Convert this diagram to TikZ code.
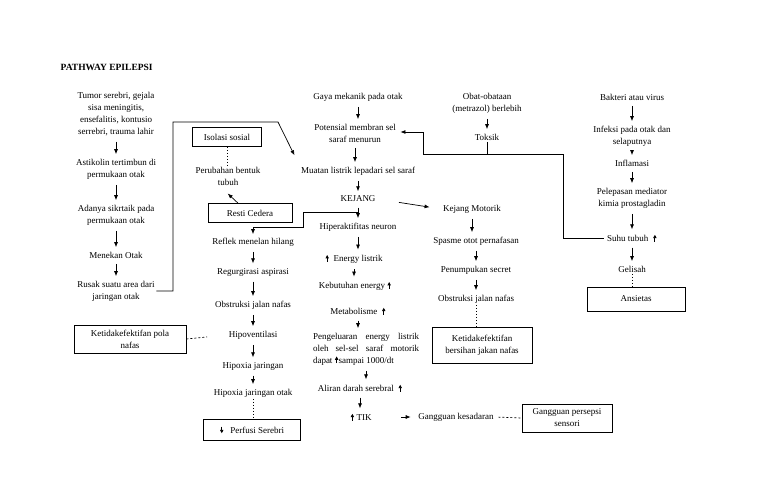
\documentclass[tikz,border=0pt]{standalone}
\usepackage{fontspec}
\setmainfont{Liberation Serif}
\usetikzlibrary{arrows.meta,calc}
\newcommand{\upar}{\tikz[baseline=0pt]\draw[-{Latex[length=3.6pt,width=3.8pt]},line width=0.9pt,shorten <=0pt,shorten >=0pt] (0pt,0pt) -- (0pt,7pt);}
\newcommand{\dnar}{\tikz[baseline=0pt]\draw[-{Latex[length=3.6pt,width=3.8pt]},line width=0.9pt,shorten <=0pt,shorten >=0pt] (0pt,7pt) -- (0pt,0pt);}
\begin{document}
\begin{tikzpicture}[x=1pt,y=-1pt,
  font=\fontsize{9}{12}\selectfont,
  every node/.style={align=center,inner sep=1.5pt},
  box/.style={draw,line width=0.7pt,align=center,inner sep=1.5pt},
  arr/.style={-{Latex[length=5pt,width=4pt]},line width=0.7pt,shorten <=4pt,shorten >=3pt},
  ln/.style={line width=0.7pt},
  dotln/.style={line width=0.7pt,dash pattern=on 1.5pt off 1.5pt},
  dashln/.style={line width=0.7pt,dash pattern=on 2pt off 2pt}]
\fill[white] (0,0) rectangle (768,503);
\useasboundingbox (0,0) rectangle (768,503);

\node[font=\fontsize{9.5}{11}\selectfont\bfseries,anchor=west] (title) at (59,67) {PATHWAY EPILEPSI};

% left column
\node (l1) at (116,114) {Tumor serebri, gejala\\sisa meningitis,\\ensefalitis, kontusio\\serrebri, trauma lahir};
\node (l2) at (116,169) {Astikolin tertimbun di\\permukaan otak};
\node (l3) at (116,215) {Adanya sikrtaik pada\\permukaan otak};
\node (l4) at (116,255) {Menekan Otak};
\node (l5) at (116,291) {Rusak suatu area dari\\jaringan otak};

% middle column
\node (m1) at (358,97) {Gaya mekanik pada otak};
\node (m2) at (355,133) {Potensial membran sel\\saraf menurun};
\node (m3) at (358,171) {Muatan listrik lepadari sel saraf};
\node (m4) at (358,199) {KEJANG};
\node (m5) at (358,227) {Hiperaktifitas neuron};
\node (m6) at (354,259) {\upar\ \ Energy listrik};
\node (m7) at (355,286) {Kebutuhan energy \upar};
\node (m8) at (358,311) {Metabolisme \ \upar};
\node[text width=106pt,align=justify] (m9) at (366,349) {Pengeluaran energy listrik oleh sel-sel saraf motorik dapat \upar sampai 1000/dt};
\node (m10) at (360,388) {Aliran darah serebral \ \upar};
\node (m11) at (361,417) {\upar\ TIK};
\node (g) at (456,417) {Gangguan kesadaran};
\node[box,minimum width=90pt,minimum height=28pt] (gp) at (567,418) {Gangguan persepsi\\sensori};

% obat column
\node (o1) at (487,103) {Obat-obataan\\(metrazol) berlebih};
\node (o2) at (487,137) {Toksik};

% kejang motorik column
\node (k1) at (472,209) {Kejang Motorik};
\node (k2) at (476,241) {Spasme otot pernafasan};
\node (k3) at (476,270) {Penumpukan secret};
\node (k4) at (476,299) {Obstruksi jalan nafas};
\node[box,minimum width=100pt,minimum height=36pt] (kb) at (482,345) {Ketidakefektifan\\bersihan jakan nafas};

% bakteri column
\node (b1) at (632,97) {Bakteri atau virus};
\node (b2) at (632,136) {Infeksi pada otak dan\\selaputnya};
\node (b3) at (632,163) {Inflamasi};
\node (b4) at (632,198) {Pelepasan mediator\\kimia prostagladin};
\node (b5) at (632,238) {Suhu tubuh \ \upar};
\node (b6) at (632,269) {Gelisah};
\node[box,minimum width=98pt,minimum height=24pt] (an) at (636,299) {Ansietas};

% left-middle column
\node[box,minimum width=69pt,minimum height=19pt] (is) at (227,137) {Isolasi sosial};
\node (pb) at (228,176) {Perubahan bentuk\\tubuh};
\node[box,minimum width=84pt,minimum height=19pt] (rc) at (250,213) {Resti Cedera};
\node (r1) at (253,242) {Reflek menelan hilang};
\node (r2) at (253,272) {Regurgirasi aspirasi};
\node (r3) at (253,305) {Obstruksi jalan nafas};
\node (r4) at (253,335) {Hipoventilasi};
\node (r5) at (253,366) {Hipoxia jaringan};
\node (r6) at (253,393) {Hipoxia jaringan otak};
\node[box,minimum width=97pt,minimum height=21pt] (ps) at (252,430) {\dnar\ \ \ Perfusi Serebri};
\node[box,minimum width=112pt,minimum height=28pt] (kp) at (130,339) {Ketidakefektifan pola\\nafas};

% vertical arrows
\foreach \a/\b in {l1/l2,l2/l3,l3/l4,l4/l5,m1/m2,m2/m3,m3/m4,m4/m5,m5/m6,m6/m7,m8/m9,m9/m10,m10/m11,o1/o2,k1/k2,k2/k3,k3/k4,b1/b2,b2/b3,b3/b4,b4/b5,b5/b6,r1/r2,r2/r3,r3/r4,r4/r5,r5/r6}
  \draw[arr] (\a.south) -- (\a.south |- \b.north);

% dotted links
\draw[dotln] (is.south) -- (is.south |- pb.north);
\draw[dotln] (r6.south) -- (r6.south |- ps.north);
\draw[dotln] (k4.south) -- (k4.south |- kb.north);
\draw[dotln] (b6.south) -- (b6.south |- an.north);
\draw[dashln,shorten >=20pt] (kp.east) -- (r4.west);
\draw[dashln,shorten <=3pt] (g.east) -- (gp.west);

% other connectors
\draw[arr,shorten <=28pt,shorten >=6pt] (m11.east) -- (g.west);
\draw[arr,shorten <=22pt,shorten >=12pt] (m4.east) -- (k1.west);
\draw[arr,shorten <=0pt,shorten >=1pt] ([xshift=-12pt]rc.north) -- ([xshift=-1pt,yshift=-6pt]pb.south);

\coordinate (kj) at (358,212);
\coordinate (c1) at (303,227);
\draw[arr,shorten <=0pt,shorten >=2pt] (kj) -| (c1) -- (c1 -| r1.north) -- (r1.north);

\coordinate (c2) at (173,122);
\coordinate (c3) at (278,122);
\draw[arr,shorten <=0pt,shorten >=11pt] (l5.east) -| (c2) -- (c3) -- (m3.north west);

\coordinate (c4) at (563,154);
\coordinate (c5) at (423,154);
\coordinate (c6) at (423,132);
\draw[ln] (o2.south) -- (o2.south |- c4);
\draw[arr,shorten <=2pt,shorten >=3pt] (b5.west) -| (c4) -- (c5) -- (c6) -- (c6 -| m2.east);
\end{tikzpicture}
\end{document}
